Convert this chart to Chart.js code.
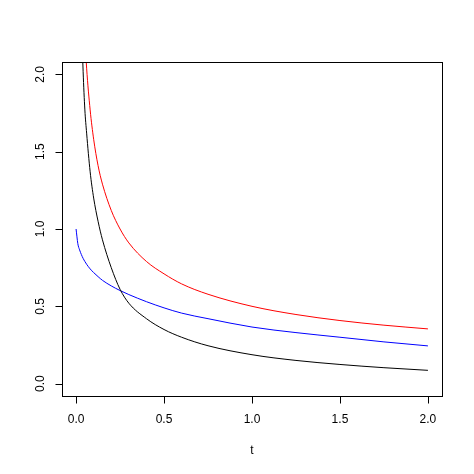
<!DOCTYPE html>
<html>
<head>
<meta charset="utf-8">
<script src="https://cdn.jsdelivr.net/npm/chart.js@4.4.1/dist/chart.umd.min.js"></script>
<style>
  html, body { margin: 0; padding: 0; background: #fff; }
</style>
</head>
<body>
<canvas id="plot" width="474" height="474"></canvas>
<script>
// valores (null = fuera del rango visible)
const t     = [0, 0.01, 0.02, 0.03, 0.04, 0.05, 0.06, 0.08, 0.1, 0.125, 0.15, 0.2, 0.25, 0.3, 0.4, 0.5, 0.6, 0.75, 1, 1.25, 1.5, 1.75, 2];
const black = [null, null, null, 2.39, 2.02, 1.77, 1.62, 1.37, 1.2, 1.05, 0.93, 0.75, 0.61, 0.52, 0.42, 0.35, 0.3, 0.245, 0.187, 0.15, 0.124, 0.103, 0.086];
const red   = [null, null, null, null, 2.5, 2.24, 2.04, 1.77, 1.58, 1.41, 1.29, 1.12, 1.0, 0.91, 0.79, 0.71, 0.645, 0.578, 0.5, 0.447, 0.408, 0.378, 0.354];
const blue  = [1.0, 0.905, 0.865, 0.835, 0.81, 0.79, 0.772, 0.742, 0.718, 0.692, 0.668, 0.632, 0.602, 0.576, 0.53, 0.49, 0.456, 0.42, 0.366, 0.33, 0.3, 0.27, 0.244];
const xTicks = [0, 0.5, 1, 1.5, 2];
const yTicks = [0, 0.5, 1, 1.5, 2];
const xLabel = 't';

function pts(arr){
  return t.map((x,i)=>({x, y: arr[i]})).filter(p=>p.y!==null);
}
function serie(arr, color){
  return { data: pts(arr), borderColor: color, borderWidth: 1, pointRadius: 0,
           showLine: true, cubicInterpolationMode: 'monotone', fill: false };
}

// ejes al estilo R: caja, marcas hacia afuera y etiquetas
const rAxes = {
  id: 'rAxes',
  afterDraw(chart){
    const {ctx, chartArea: a, scales: {x, y}} = chart;
    ctx.save();
    ctx.strokeStyle = '#000';
    ctx.lineWidth = 1;
    ctx.strokeRect(a.left + 0.5, a.top + 0.5, a.right - a.left, a.bottom - a.top);

    ctx.fillStyle = '#000';
    ctx.font = '12px "Liberation Sans", Arial, sans-serif';
    ctx.textAlign = 'center';
    ctx.textBaseline = 'middle';

    ctx.beginPath();
    xTicks.forEach(v=>{
      const px = Math.round(x.getPixelForValue(v)) + 0.5;
      ctx.moveTo(px, a.bottom + 0.5);
      ctx.lineTo(px, a.bottom + 7.5);
    });
    yTicks.forEach(v=>{
      const py = Math.round(y.getPixelForValue(v)) + 0.5;
      ctx.moveTo(a.left + 0.5, py);
      ctx.lineTo(a.left - 6.5, py);
    });
    ctx.stroke();

    xTicks.forEach(v=>{
      ctx.fillText(v.toFixed(1), x.getPixelForValue(v), a.bottom + 24);
    });
    yTicks.forEach(v=>{
      ctx.save();
      ctx.translate(a.left - 21, y.getPixelForValue(v));
      ctx.rotate(-Math.PI / 2);
      ctx.fillText(v.toFixed(1), 0, 0);
      ctx.restore();
    });
    ctx.fillText(xLabel, (a.left + a.right) / 2, a.bottom + 55);
    ctx.restore();
  }
};

new Chart(document.getElementById('plot'), {
  type: 'scatter',
  data: { datasets: [ serie(black, '#000000'), serie(red, '#ff0000'), serie(blue, '#0000ff') ] },
  options: {
    responsive: false,
    animation: false,
    layout: { padding: { left: 62, right: 32, top: 62, bottom: 78 } },
    plugins: { legend: { display: false }, tooltip: { enabled: false } },
    scales: {
      x: { type: 'linear', min: -0.08, max: 2.08, display: false },
      y: { type: 'linear', min: -0.08, max: 2.08, display: false }
    }
  },
  plugins: [rAxes]
});
</script>
</body>
</html>
